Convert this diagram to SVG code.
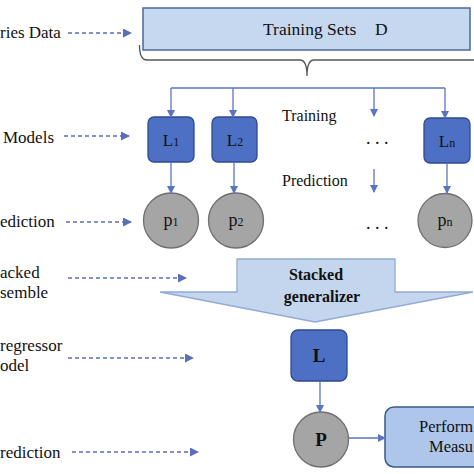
<svg xmlns="http://www.w3.org/2000/svg" width="474" height="474" viewBox="0 0 474 474" font-family="'Liberation Serif', 'Times New Roman', serif">
<style>
text{font-family:'Liberation Serif','Times New Roman',serif;fill:#111}
.lbl{font-size:17px}
.mid{font-size:16px}
.bold{font-weight:bold}
.conn{stroke:#5a74c4;stroke-width:1.3;fill:none}
.dash{stroke:#5a6fb8;stroke-width:1.3;fill:none;stroke-dasharray:4 3}
.lbox{fill:#4d6fc4;stroke:#2f4a8f;stroke-width:1.3}
.circ{fill:#a5a5a5;stroke:#6f6f6f;stroke-width:1.3}
</style>
<defs>
<marker id="ah" markerWidth="8" markerHeight="8" refX="7" refY="4" orient="auto" markerUnits="userSpaceOnUse">
<path d="M0,0 L8,4 L0,8 Z" fill="#5a74c4"/>
</marker>
<marker id="ahd" markerWidth="9" markerHeight="9" refX="8" refY="4.5" orient="auto" markerUnits="userSpaceOnUse">
<path d="M0,0 L9,4.5 L0,9 Z" fill="#5a6fb8"/>
</marker>
</defs>

<g id="training-sets">
<rect x="143" y="8" width="327" height="42" fill="#c6d7f0" stroke="#4a6a9f" stroke-width="1.5"/>
<text x="263" y="35" style="font-size:17.5px">Training Sets</text>
<text x="375" y="35" style="font-size:17.5px">D</text>
</g>

<g id="brace">
<path d="M139.5,45 Q139.5,60 147,60 L300,60 Q307,60 307,76 Q307,60 314,60 L474,60" fill="none" stroke="#555" stroke-width="1.3"/>
</g>

<g id="left-labels">
<text class="lbl" x="0" y="38">ries Data</text>
<text class="lbl" x="3" y="143">Models</text>
<text class="lbl" x="0" y="227">ediction</text>
<text class="lbl" x="0" y="278">acked</text>
<text class="lbl" x="0" y="298">semble</text>
<text class="lbl" x="0" y="351">regressor</text>
<text class="lbl" x="0" y="371">odel</text>
<text class="lbl" x="0" y="458">rediction</text>
</g>

<g id="L1"><rect class="lbox" x="148" y="117" width="46" height="45" rx="6"/><text x="171" y="146" text-anchor="middle" style="font-size:17px">L<tspan style="font-size:12px">1</tspan></text></g>
<g id="L2"><rect class="lbox" x="212" y="117" width="45" height="45" rx="6"/><text x="235" y="146" text-anchor="middle" style="font-size:17px">L<tspan style="font-size:12px">2</tspan></text></g>
<g id="Ln"><rect class="lbox" x="424" y="118" width="46" height="45" rx="6"/><text x="447" y="147" text-anchor="middle" style="font-size:17px">L<tspan style="font-size:12px">n</tspan></text></g>

<g id="p1"><circle class="circ" cx="171" cy="220.5" r="27.5"/><text x="171" y="226" text-anchor="middle" style="font-size:18px">p<tspan style="font-size:12px">1</tspan></text></g>
<g id="p2"><circle class="circ" cx="236" cy="220.5" r="27.5"/><text x="236" y="226" text-anchor="middle" style="font-size:18px">p<tspan style="font-size:12px">2</tspan></text></g>
<g id="pn"><circle class="circ" cx="445" cy="220.5" r="27"/><text x="445" y="226" text-anchor="middle" style="font-size:18px">p<tspan style="font-size:12px">n</tspan></text></g>

<g id="middle-labels">
<text class="mid" x="282" y="121">Training</text>
<text class="mid" x="282" y="186">Prediction</text>
<text x="366" y="144" style="font-size:18px">. . .</text>
<text x="366" y="229" style="font-size:18px">. . .</text>
</g>

<g id="stacked-generalizer">
<path d="M237,259 L395,259 L395,292 L473,292 L315,322 L160,292 L237,292 Z" fill="#c4d5ee" stroke="#93aad2" stroke-width="1.3"/>
<text class="bold" x="316" y="280" text-anchor="middle" style="font-size:16px">Stacked</text>
<text class="bold" x="322" y="302" text-anchor="middle" style="font-size:16px">generalizer</text>
</g>

<g id="L"><rect class="lbox" x="291" y="330" width="56" height="51" rx="7"/><text class="bold" x="319" y="362" text-anchor="middle" style="font-size:19px">L</text></g>

<g id="P"><circle class="circ" cx="321" cy="439.5" r="27.5"/><text class="bold" x="321" y="446" text-anchor="middle" style="font-size:19px">P</text></g>

<g id="performance">
<rect x="385" y="407" width="110" height="60" rx="9" fill="#adc6ea" stroke="#3b5a8c" stroke-width="1.5"/>
<text x="419" y="432" style="font-size:16.5px">Perform</text>
<text x="429" y="452" style="font-size:16.5px">Measu</text>
</g>

<g id="connectors">
<path class="conn" d="M171,88 L445,88"/>
<path class="conn" d="M171,88 L171,117" marker-end="url(#ah)"/>
<path class="conn" d="M233,88 L233,117" marker-end="url(#ah)"/>
<path class="conn" d="M374,88 L374,116" marker-end="url(#ah)"/>
<path class="conn" d="M445,88 L445,118" marker-end="url(#ah)"/>
<path class="conn" d="M171,162 L171,193" marker-end="url(#ah)"/>
<path class="conn" d="M234,162 L234,193" marker-end="url(#ah)"/>
<path class="conn" d="M447,163 L447,193" marker-end="url(#ah)"/>
<path class="conn" d="M374,169 L374,192" marker-end="url(#ah)"/>
<path class="conn" d="M320,381 L320,412" marker-end="url(#ah)"/>
<path class="conn" d="M349,438 L385,438" marker-end="url(#ah)"/>
<path class="dash" d="M68,33 L131,33" marker-end="url(#ahd)"/>
<path class="dash" d="M64,136 L129,136" marker-end="url(#ahd)"/>
<path class="dash" d="M66,222 L131,222" marker-end="url(#ahd)"/>
<path class="dash" d="M68,278 L186,278" marker-end="url(#ahd)"/>
<path class="dash" d="M68,358 L193,358" marker-end="url(#ahd)"/>
<path class="dash" d="M72,452 L198,452" marker-end="url(#ahd)"/>
</g>
</svg>
